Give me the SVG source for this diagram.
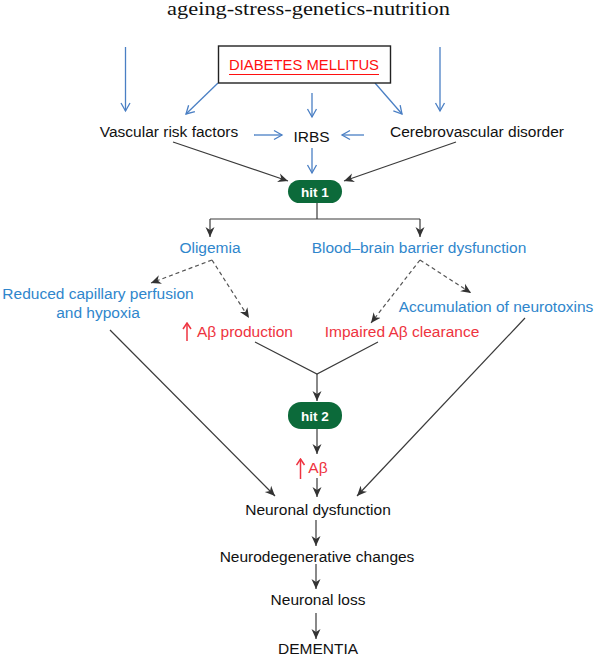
<svg xmlns="http://www.w3.org/2000/svg" width="596" height="656" viewBox="0 0 596 656">
<style>
.t{font-family:"Liberation Sans",Arial,sans-serif;font-size:15.5px;fill:#111;text-anchor:middle}
.b{fill:#2f86cc}
.r{fill:#ee3340}
.w{fill:#fff;font-size:13.5px;font-weight:bold}
.bl{stroke:#4a7fc4;stroke-width:1.3;fill:none}
.dk{stroke:#3a3a3a;stroke-width:1.2;fill:none}
.ds{stroke:#555;stroke-width:1.2;fill:none;stroke-dasharray:4 3}
.ru{stroke:#ee3340;stroke-width:1.5;fill:none}
.pill{fill:#0c6a3a}
</style>
<defs>
<marker id="ab" markerUnits="userSpaceOnUse" markerWidth="12" markerHeight="12" refX="9" refY="5" orient="auto" viewBox="0 0 12 10">
<path d="M1,0.5 L9,5 L1,9.5" fill="none" stroke="#4a7fc4" stroke-width="1.3"/>
</marker>
<marker id="ad" markerUnits="userSpaceOnUse" markerWidth="11" markerHeight="10" refX="10" refY="4.5" orient="auto" viewBox="0 0 11 9">
<path d="M0,0 L10,4.5 L0,9 L3,4.5 z" fill="#333"/>
</marker>
<marker id="ar" markerUnits="userSpaceOnUse" markerWidth="10" markerHeight="10" refX="9" refY="5" orient="auto" viewBox="0 0 10 10">
<path d="M3,1 L9,5 L3,9" fill="none" stroke="#ee3340" stroke-width="1.5"/>
</marker>
</defs>

<text id="title" x="308.5" y="15" font-family="'Liberation Serif','Times New Roman',serif" font-size="18.5" fill="#111" text-anchor="middle" textLength="283" lengthAdjust="spacingAndGlyphs">ageing-stress-genetics-nutrition</text>

<g id="connectors">
<line class="bl" x1="125.5" y1="47" x2="125.5" y2="111" marker-end="url(#ab)"/>
<line class="bl" x1="440" y1="47" x2="440" y2="111" marker-end="url(#ab)"/>
<line class="bl" x1="218" y1="83" x2="186" y2="114" marker-end="url(#ab)"/>
<line class="bl" x1="312" y1="93" x2="312" y2="117" marker-end="url(#ab)"/>
<line class="bl" x1="375" y1="83" x2="402" y2="114" marker-end="url(#ab)"/>
<line class="bl" x1="254" y1="135" x2="282" y2="135" marker-end="url(#ab)"/>
<line class="bl" x1="364" y1="135" x2="342" y2="135" marker-end="url(#ab)"/>
<line class="bl" x1="312" y1="148" x2="312" y2="173" marker-end="url(#ab)"/>
<line class="dk" x1="173" y1="142" x2="288" y2="181" marker-end="url(#ad)"/>
<line class="dk" x1="456" y1="142" x2="344" y2="181" marker-end="url(#ad)"/>
<polyline class="dk" points="317,203 317,219"/>
<polyline class="dk" points="210,219 420,219"/>
<line class="dk" x1="210" y1="219" x2="210" y2="237" marker-end="url(#ad)"/>
<line class="dk" x1="420" y1="219" x2="420" y2="237" marker-end="url(#ad)"/>
<line class="ds" x1="212" y1="260" x2="151" y2="283" marker-end="url(#ad)"/>
<line class="ds" x1="212" y1="260" x2="249" y2="318" marker-end="url(#ad)"/>
<line class="ds" x1="420" y1="260" x2="371" y2="323" marker-end="url(#ad)"/>
<line class="ds" x1="420" y1="260" x2="471" y2="293" marker-end="url(#ad)"/>
<polyline class="dk" points="255,342 317,374 378,342"/>
<line class="dk" x1="317" y1="374" x2="317" y2="401" marker-end="url(#ad)"/>
<line class="dk" x1="317" y1="429" x2="317" y2="454" marker-end="url(#ad)"/>
<line class="dk" x1="317" y1="478" x2="317" y2="497" marker-end="url(#ad)"/>
<line class="dk" x1="110" y1="330" x2="275" y2="496" marker-end="url(#ad)"/>
<line class="dk" x1="525" y1="318" x2="357" y2="496" marker-end="url(#ad)"/>
<line class="dk" x1="316" y1="520" x2="316" y2="546" marker-end="url(#ad)"/>
<line class="dk" x1="316" y1="564" x2="316" y2="589" marker-end="url(#ad)"/>
<line class="dk" x1="316" y1="613" x2="316" y2="639" marker-end="url(#ad)"/>
</g>

<g id="diabetes">
<rect x="218.5" y="46" width="172" height="37" fill="#fff" stroke="#222" stroke-width="1.4"/>
<text x="304" y="70" font-family="'Liberation Sans',Arial,sans-serif" font-size="14.5" fill="#ff1010" text-anchor="middle" textLength="150" lengthAdjust="spacingAndGlyphs">DIABETES MELLITUS</text>
<line x1="229" y1="74.5" x2="379" y2="74.5" stroke="#ff1010" stroke-width="1.2"/>
</g>
<g id="vascular"><text class="t" x="169" y="137">Vascular risk factors</text></g>
<g id="irbs"><text class="t" x="311.5" y="142">IRBS</text></g>
<g id="cerebro"><text class="t" x="477" y="137">Cerebrovascular disorder</text></g>
<g id="hit1"><rect class="pill" x="288" y="180" width="54" height="23" rx="11.5"/><text class="t w" x="315" y="196.5">hit 1</text></g>
<g id="oligemia"><text class="t b" x="210" y="253">Oligemia</text></g>
<g id="bbb"><text class="t b" x="419" y="253">Blood–brain barrier dysfunction</text></g>
<g id="reduced"><text class="t b" x="98" y="299">Reduced capillary perfusion</text><text class="t b" x="98" y="318">and hypoxia</text></g>
<g id="abprod"><line class="ru" x1="187" y1="341" x2="187" y2="323" marker-end="url(#ar)"/><text class="t r" x="245" y="337">Aβ production</text></g>
<g id="impaired"><text class="t r" x="402" y="337">Impaired Aβ clearance</text></g>
<g id="accum"><text class="t b" x="496" y="312">Accumulation of neurotoxins</text></g>
<g id="hit2"><rect class="pill" x="288" y="402" width="54" height="27" rx="13"/><text class="t w" x="315" y="420.5">hit 2</text></g>
<g id="abup"><line class="ru" x1="300.5" y1="479" x2="300.5" y2="459" marker-end="url(#ar)"/><text class="t r" x="318" y="473">Aβ</text></g>
<g id="neurdys"><text class="t" x="318" y="515">Neuronal dysfunction</text></g>
<g id="neurodeg"><text class="t" x="317" y="562">Neurodegenerative changes</text></g>
<g id="neurloss"><text class="t" x="318" y="605">Neuronal loss</text></g>
<g id="dementia"><text class="t" x="318" y="654">DEMENTIA</text></g>
</svg>
